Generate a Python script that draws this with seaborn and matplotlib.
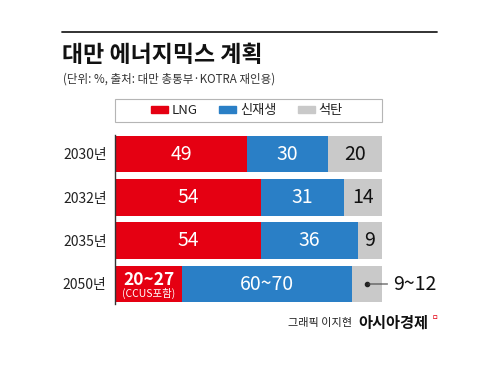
import matplotlib
matplotlib.use("Agg")
import matplotlib.pyplot as plt
from matplotlib.patches import Patch, Rectangle
from matplotlib.lines import Line2D
import seaborn as sns
import numpy as np

years = ["2030년", "2032년", "2035년", "2050년"]
lng = [49, 54, 54, 25]
renew = [30, 31, 36, 63]
coal = [20, 14, 9, 11]
lng_labels = ["49", "54", "54", "20~27"]
renew_labels = ["30", "31", "36", "60~70"]
coal_labels = ["20", "14", "9", "9~12"]
series_names = ["LNG", "신재생", "석탄"]

RED = "#e50012"
BLUE = "#2a7fc6"
GRAY = "#c9c9c9"

sns.set_theme(style="white")
plt.rcParams["font.family"] = ["Noto Sans CJK KR", "DejaVu Sans"]

W, H = 500, 366
fig = plt.figure(figsize=(W / 100, H / 100), dpi=100)
ax = fig.add_axes([115 / W, 1 - 303.5 / H, 267 / W, 169 / H])

lng_a = np.array(lng)
ren_a = np.array(renew)
coal_a = np.array(coal)

# stacked bars: draw cumulative totals back to front
sns.barplot(x=lng_a + ren_a + coal_a, y=years, orient="h", color=GRAY,
            saturation=1, width=0.85, linewidth=0, ax=ax)
sns.barplot(x=lng_a + ren_a, y=years, orient="h", color=BLUE,
            saturation=1, width=0.85, linewidth=0, ax=ax)
sns.barplot(x=lng_a, y=years, orient="h", color=RED,
            saturation=1, width=0.85, linewidth=0, ax=ax)

ax.set_xlim(0, 99)
ax.set_ylim(3.45, -0.45)
ax.set_xlabel("")
ax.set_ylabel("")
ax.set_xticks([])
for s in ["top", "right", "bottom"]:
    ax.spines[s].set_visible(False)
ax.spines["left"].set_color("#333333")
ax.spines["left"].set_linewidth(1.0)
ax.tick_params(axis="y", length=0, pad=6, labelsize=10, labelcolor="#222222")

# value labels
for i in range(len(years)):
    x_red = lng[i] / 2
    x_blue = lng[i] + renew[i] / 2
    x_gray = lng[i] + renew[i] + coal[i] / 2
    if i < 3:
        ax.text(x_red, i, lng_labels[i], color="white", fontsize=14,
                ha="center", va="center")
        ax.text(x_blue, i, renew_labels[i], color="white", fontsize=14,
                ha="center", va="center")
        ax.text(x_gray, i, coal_labels[i], color="#111111", fontsize=14,
                ha="center", va="center")
    else:
        ax.text(x_red, i - 0.1, lng_labels[i], color="white", fontsize=12.5,
                fontweight="bold", ha="center", va="center")
        ax.text(x_red, i + 0.22, "(CCUS포함)", color="white", fontsize=7.5,
                ha="center", va="center")
        ax.text(x_blue, i, renew_labels[i], color="white", fontsize=14,
                ha="center", va="center")
        ax.plot([x_gray], [i], marker="o", ms=3, color="#222222", clip_on=False)
        ax.annotate(coal_labels[i], xy=(x_gray, i), xytext=(19, 0),
                    textcoords="offset points", ha="left", va="center",
                    fontsize=14, color="#111111",
                    arrowprops=dict(arrowstyle="-", color="#444444", lw=0.8,
                                    shrinkA=2, shrinkB=1))

# legend in a box above the bars
handles = [Patch(color=c, label=n) for c, n in zip([RED, BLUE, GRAY], series_names)]
fig.legend(handles=handles, loc="center", bbox_to_anchor=(247 / W, 1 - 110.5 / H),
           ncol=3, frameon=False, fontsize=9.5, handlelength=1.3,
           handleheight=0.45, handletextpad=0.3, columnspacing=1.6,
           borderpad=0, labelcolor="#222222")
fig.add_artist(Rectangle((115 / W, 1 - 121.5 / H), 267 / W, 22.5 / H,
                         transform=fig.transFigure, fill=False,
                         ec="#b5b5b5", lw=0.8))

# header
fig.add_artist(Line2D([62 / W, 437 / W], [1 - 32 / H] * 2, color="#222222", lw=1.3))
fig.text(62 / W, 1 - 55 / H, "대만 에너지믹스 계획", fontsize=16.5,
         fontweight=900, color="#111111", ha="left", va="center")
fig.text(63 / W, 1 - 79 / H, "(단위: %, 출처: 대만 총통부·KOTRA 재인용)",
         fontsize=8.3, color="#333333", ha="left", va="center")

# footer
fig.text(352 / W, 1 - 323 / H, "그래픽 이지현", fontsize=8, color="#222222",
         ha="right", va="center")
fig.text(358 / W, 1 - 323 / H, "아시아경제", fontsize=11, fontweight="bold",
         color="#111111", ha="left", va="center")
fig.text(432 / W, 1 - 318 / H, "ㅁ", fontsize=5, color=RED,
         ha="left", va="center")

fig.savefig("out.png", dpi=100)
